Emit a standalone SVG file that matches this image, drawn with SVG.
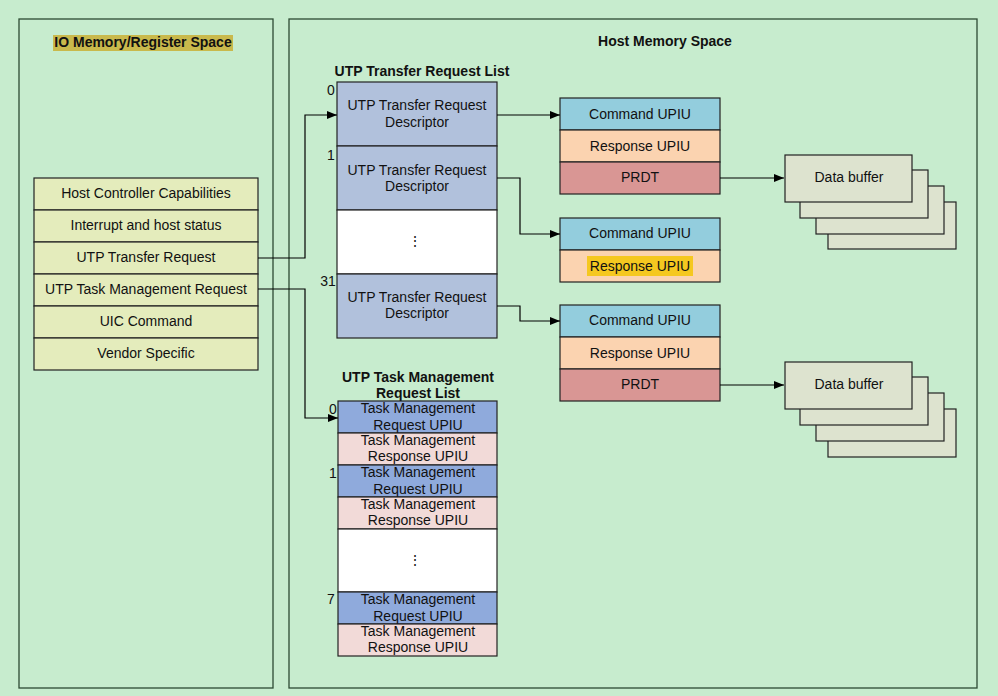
<svg xmlns="http://www.w3.org/2000/svg" width="998" height="696" viewBox="0 0 998 696">
<defs>
<marker id="ah" markerWidth="10" markerHeight="8" refX="10" refY="4" orient="auto" markerUnits="userSpaceOnUse"><path d="M0,0 L10,4 L0,8 z" fill="#000"/></marker>
<style>
text{font-family:"Liberation Sans",Arial,sans-serif;font-size:14px;fill:#111;text-anchor:middle}
.b{font-weight:bold}
.s{stroke:#222;stroke-width:1.2}
.reg{fill:#e4ecbc}.desc{fill:#b1c1dc}.wh{fill:#fff}
.tq{fill:#8faadc}.tr{fill:#f2dad8}
.cmd{fill:#93cddd}.rsp{fill:#fbd3b0}.prdt{fill:#d99694}.db{fill:#dde3cf}
.c{fill:none;stroke:#000;stroke-width:1.2}
.pan{fill:none;stroke:#2d4a33;stroke-width:1.3}
</style>
</defs>
<rect width="998" height="696" fill="#c7ecce"/>
<g id="panel-io"><rect class="pan" x="19" y="19" width="254" height="669"/>
<rect x="53" y="35" width="180" height="16" fill="#c9b94c"/><text class="b" x="143" y="47">IO Memory/Register Space</text></g>
<g id="panel-host"><rect class="pan" x="289" y="19" width="688" height="669"/><text class="b" x="665" y="46">Host Memory Space</text></g>
<g id="registers">
<rect class="reg s" x="34" y="178" width="224" height="32"/><text x="146" y="198">Host Controller Capabilities</text>
<rect class="reg s" x="34" y="210" width="224" height="32"/><text x="146" y="230">Interrupt and host status</text>
<rect class="reg s" x="34" y="242" width="224" height="32"/><text x="146" y="262">UTP Transfer Request</text>
<rect class="reg s" x="34" y="274" width="224" height="32"/><text x="146" y="294">UTP Task Management Request</text>
<rect class="reg s" x="34" y="306" width="224" height="32"/><text x="146" y="326">UIC Command</text>
<rect class="reg s" x="34" y="338" width="224" height="32"/><text x="146" y="358">Vendor Specific</text>
</g>
<g id="transfer-list">
<text class="b" x="422" y="76">UTP Transfer Request List</text>
<rect class="desc s" x="337" y="82" width="160" height="64"/><text x="417" y="110">UTP Transfer Request</text><text x="417" y="127">Descriptor</text>
<rect class="desc s" x="337" y="146" width="160" height="64"/><text x="417" y="175">UTP Transfer Request</text><text x="417" y="191">Descriptor</text>
<rect class="wh s" x="337" y="210" width="160" height="64"/><text x="415" y="246">⋮</text>
<rect class="desc s" x="337" y="274" width="160" height="64"/><text x="417" y="302">UTP Transfer Request</text><text x="417" y="318">Descriptor</text>
<text x="331" y="95">0</text><text x="331" y="160">1</text><text x="328" y="286">31</text>
</g>
<g id="tm-list">
<text class="b" x="418" y="382">UTP Task Management</text><text class="b" x="418" y="398">Request List</text>
<rect class="tq s" x="338" y="401" width="159" height="32"/><text x="418" y="413">Task Management</text><text x="418" y="430">Request UPIU</text>
<rect class="tr s" x="338" y="433" width="159" height="32"/><text x="418" y="445">Task Management</text><text x="418" y="461">Response UPIU</text>
<rect class="tq s" x="338" y="465" width="159" height="32"/><text x="418" y="477">Task Management</text><text x="418" y="494">Request UPIU</text>
<rect class="tr s" x="338" y="497" width="159" height="32"/><text x="418" y="509">Task Management</text><text x="418" y="525">Response UPIU</text>
<rect class="wh s" x="338" y="529" width="159" height="63"/><text x="415" y="565">⋮</text>
<rect class="tq s" x="338" y="592" width="159" height="32"/><text x="418" y="604">Task Management</text><text x="418" y="621">Request UPIU</text>
<rect class="tr s" x="338" y="624" width="159" height="32"/><text x="418" y="636">Task Management</text><text x="418" y="652">Response UPIU</text>
<text x="333" y="414">0</text><text x="333" y="478">1</text><text x="331" y="604">7</text>
</g>
<g id="upiu-0">
<rect class="cmd s" x="560" y="98" width="160" height="32"/><text x="640" y="119">Command UPIU</text>
<rect class="rsp s" x="560" y="130" width="160" height="32"/><text x="640" y="151">Response UPIU</text>
<rect class="prdt s" x="560" y="162" width="160" height="32"/><text x="640" y="182">PRDT</text>
</g>
<g id="upiu-1">
<rect class="cmd s" x="560" y="218" width="160" height="32"/><text x="640" y="238">Command UPIU</text>
<rect class="rsp s" x="560" y="250" width="160" height="32"/><rect x="587" y="256" width="106" height="20" fill="#f5c820"/><text x="640" y="271">Response UPIU</text>
</g>
<g id="upiu-31">
<rect class="cmd s" x="560" y="305" width="160" height="32"/><text x="640" y="325">Command UPIU</text>
<rect class="rsp s" x="560" y="337" width="160" height="32"/><text x="640" y="358">Response UPIU</text>
<rect class="prdt s" x="560" y="369" width="160" height="32"/><text x="640" y="389">PRDT</text>
</g>
<g id="databuf-0">
<rect class="db s" x="828" y="202" width="128" height="47"/>
<rect class="db s" x="816" y="186" width="128" height="48"/>
<rect class="db s" x="800" y="170" width="128" height="48"/>
<rect class="db s" x="785" y="155" width="127" height="47"/><text x="849" y="182">Data buffer</text>
</g>
<g id="databuf-31">
<rect class="db s" x="828" y="409" width="128" height="48"/>
<rect class="db s" x="816" y="393" width="128" height="48"/>
<rect class="db s" x="800" y="377" width="128" height="48"/>
<rect class="db s" x="785" y="362" width="127" height="47"/><text x="849" y="389">Data buffer</text>
</g>
<g id="connectors">
<polyline class="c" points="258,258 305,258 305,115 337,115" marker-end="url(#ah)"/>
<polyline class="c" points="258,289 305,289 305,418 338,418" marker-end="url(#ah)"/>
<polyline class="c" points="497,115 560,115" marker-end="url(#ah)"/>
<polyline class="c" points="497,178 520,178 520,234 560,234" marker-end="url(#ah)"/>
<polyline class="c" points="497,306 520,306 520,321 560,321" marker-end="url(#ah)"/>
<polyline class="c" points="720,178 784,178" marker-end="url(#ah)"/>
<polyline class="c" points="720,385 784,385" marker-end="url(#ah)"/>
</g>
</svg>
